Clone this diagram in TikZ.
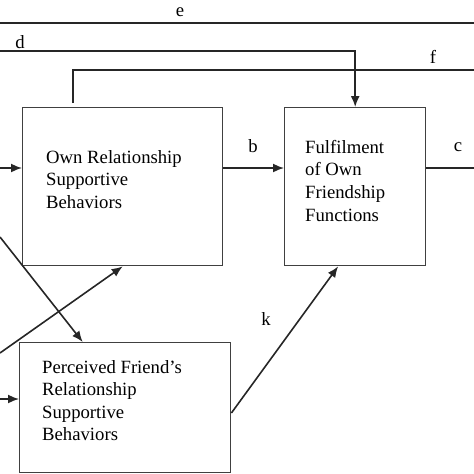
\documentclass[tikz,border=0pt]{standalone}
\usepackage{fontspec}
\setmainfont{Liberation Serif}
\usetikzlibrary{arrows.meta,positioning,calc}

\begin{document}
\begin{tikzpicture}[
    x=1pt, y=-1pt,
    box/.style={rectangle, draw=black!75, line width=1.4pt, anchor=north west, inner sep=0pt},
    txt/.style={anchor=north west, inner sep=0pt, align=left, font=\fontsize{18.7}{22.6}\selectfont},
    lbl/.style={inner sep=0pt, font=\fontsize{18.7}{22.6}\selectfont},
    link/.style={line width=1.6pt, black!85},
    arr/.style={link, -{Latex[length=11pt,width=9pt]}}
]
    \useasboundingbox (0,0) rectangle (474,474);

    % Boxes
    \node[box, minimum width=200pt, minimum height=158pt] (own) at (22,107) {};
    \node[box, minimum width=141pt, minimum height=158pt] (fulfil) at (284,107) {};
    \node[box, minimum width=211pt, minimum height=130pt] (friend) at (19,342) {};

    % Box texts
    \node[txt] (ownTxt) at (46,150) {Own Relationship\\Supportive\\Behaviors};
    \node[txt] (fulfilTxt) at (305,140) {Fulfilment\\of Own\\Friendship\\Functions};
    \node[txt] (friendTxt) at (42,360) {Perceived Friend's\\Relationship\\Supportive\\Behaviors};

    % Free ends
    \coordinate (eW) at (0,23);
    \coordinate (eE) at (474,23);
    \coordinate (dW) at (0,51);
    \coordinate (fS) at (73,103);
    \coordinate (fE) at (474,70);
    \coordinate (inOwn) at (0,168);
    \coordinate (inFriend) at (0,399);
    \coordinate (cE) at (474,168);
    \coordinate (diagA) at (0,237);
    \coordinate (diagB) at (0,353);

    % Paths
    \draw[link] (eW) -- (eE);
    \draw[arr] (dW) -| (fulfil.north);
    \draw[link] (fS) |- (fE);
    \draw[arr] (inOwn) -- (own.west |- inOwn);
    \draw[arr] (inFriend) -- (friend.west |- inFriend);
    \draw[arr] (own.east |- inOwn) -- (fulfil.west |- inOwn);
    \draw[link] (fulfil.east |- cE) -- (cE);
    \draw[arr] (diagA) -- ($(friend.north west)!0.3!(friend.north east)$);
    \draw[arr] (diagB) -- (own.south);
    \draw[arr] ($(friend.north east)+(0,71)$) -- ($(fulfil.south west)!0.38!(fulfil.south east)$);

    % Labels
    \node[lbl] (lblE) at (180,12) {e};
    \node[lbl] (lblD) at (20,42) {d};
    \node[lbl] (lblF) at (433,57) {f};
    \node[lbl] (lblB) at (253,146) {b};
    \node[lbl] (lblC) at (458,147) {c};
    \node[lbl] (lblK) at (266,319) {k};
\end{tikzpicture}
\end{document}
